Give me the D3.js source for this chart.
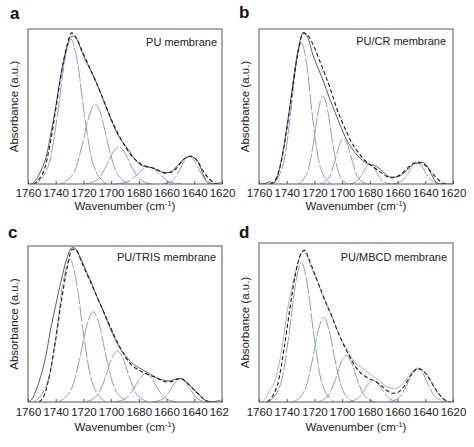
<!DOCTYPE html>
<html><head><meta charset="utf-8">
<script src="https://cdn.jsdelivr.net/npm/d3@7"></script>
<style>body{margin:0;background:#fff}svg{display:block}text{font-family:"Liberation Sans",Arial,sans-serif}</style>
</head><body><svg id="c" width="474" height="447"></svg>
<script>
// ---------- data ----------
const xTicks = [1760,1740,1720,1700,1680,1660,1640,1620];
const panelLetters = ["a","b","c","d"];
const panelTitles = ["PU membrane","PU/CR membrane","PU/TRIS membrane","PU/MBCD membrane"];
const xTitle = "Wavenumber (cm";
const yTitle = "Absorbance (a.u.)";

const measuredA = [[1760,0],[1758,0],[1754,0.03],[1750,0.10],[1747,0.17],[1744,0.30],[1740,0.50],[1736,0.72],[1732,0.88],[1729,0.95],[1727,0.955],[1724,0.92],[1721,0.85],[1718,0.79],[1714,0.72],[1710,0.64],[1706,0.55],[1702,0.46],[1698,0.37],[1694,0.30],[1690,0.25],[1686,0.20],[1682,0.15],[1678,0.12],[1674,0.11],[1670,0.105],[1666,0.085],[1662,0.075],[1658,0.075],[1654,0.10],[1650,0.14],[1646,0.17],[1643,0.178],[1640,0.17],[1637,0.14],[1634,0.07],[1631,0.015],[1628,0],[1624,0],[1622,0.008],[1620,0.005]];
const fitA = [[1756,0],[1752,0.03],[1748,0.10],[1744,0.26],[1740,0.48],[1736,0.71],[1732,0.89],[1728.5,0.975],[1725,0.94],[1721,0.86],[1717,0.78],[1713,0.70],[1709,0.62],[1705,0.53],[1701,0.44],[1697,0.36],[1693,0.29],[1689,0.23],[1685,0.18],[1681,0.145],[1677,0.12],[1673,0.11],[1669,0.10],[1665,0.085],[1661,0.07],[1657,0.075],[1653,0.10],[1649,0.145],[1645,0.175],[1642,0.178],[1638,0.15],[1634,0.09],[1630,0.04],[1626,0.01],[1622,0]];
const compsA = [
 [[1754.6,0],[1745,0.127],[1738.6,0.455],[1733.8,0.78],[1729,0.935],[1724.2,0.78],[1719.4,0.455],[1713,0.127],[1703.4,0]],
 [[1736.5,0],[1727.1,0.07],[1720.9,0.251],[1716.2,0.43],[1711.5,0.515],[1706.8,0.43],[1702.1,0.251],[1695.9,0.07],[1686.5,0]],
 [[1718.5,0],[1709.5,0.032],[1703.5,0.117],[1699,0.2],[1694.5,0.24],[1690,0.2],[1685.5,0.117],[1679.5,0.032],[1670.5,0]],
 [[1697,0],[1688,0.015],[1682,0.054],[1677.5,0.092],[1673,0.11],[1668.5,0.092],[1664,0.054],[1658,0.015],[1649,0]],
 [[1662.7,0],[1655.5,0.024],[1650.7,0.088],[1647.1,0.15],[1643.5,0.18],[1639.9,0.15],[1636.3,0.088],[1631.5,0.024],[1624.3,0]]
];

const measuredB = [[1760,0],[1755,0.005],[1752,0.015],[1750,0.005],[1747,0.04],[1744,0.15],[1740,0.36],[1737,0.55],[1734,0.75],[1731,0.90],[1728,0.975],[1725,0.95],[1721,0.83],[1717,0.74],[1713,0.65],[1709,0.55],[1705,0.46],[1701,0.37],[1697,0.29],[1693,0.23],[1689,0.185],[1685,0.15],[1681,0.13],[1677,0.12],[1673,0.10],[1669,0.065],[1665,0.045],[1661,0.045],[1657,0.06],[1653,0.09],[1650,0.12],[1647,0.135],[1645,0.13],[1642,0.14],[1639,0.12],[1636,0.07],[1633,0.02],[1630,0],[1620,0]];
const fitB = [[1752,0],[1748,0.03],[1744,0.14],[1740,0.35],[1736,0.60],[1732,0.84],[1728,0.975],[1724,0.95],[1720,0.88],[1716,0.79],[1712,0.70],[1708,0.60],[1704,0.49],[1700,0.40],[1696,0.32],[1692,0.25],[1688,0.20],[1684,0.155],[1680,0.125],[1676,0.10],[1672,0.075],[1668,0.05],[1664,0.04],[1660,0.05],[1656,0.075],[1652,0.11],[1648,0.135],[1644,0.14],[1640,0.12],[1636,0.08],[1632,0.04],[1628,0.01],[1624,0]];
const compsB = [
 [[1750.5,0],[1742.6,0.123],[1737.3,0.443],[1733.4,0.76],[1729.4,0.91],[1725.4,0.76],[1721.5,0.443],[1716.2,0.123],[1708.3,0]],
 [[1731.7,0],[1725,0.077],[1720.5,0.277],[1717.2,0.474],[1713.8,0.568],[1710.4,0.474],[1707.1,0.277],[1702.6,0.077],[1695.9,0]],
 [[1716,0],[1709.6,0.04],[1705.4,0.144],[1702.2,0.246],[1699,0.295],[1695.8,0.246],[1692.6,0.144],[1688.4,0.04],[1682,0]],
 [[1695.4,0],[1689.6,0.017],[1685.8,0.062],[1682.9,0.106],[1680,0.127],[1677.1,0.106],[1674.2,0.062],[1670.4,0.017],[1664.6,0]],
 [[1663.6,0],[1657,0.019],[1652.6,0.068],[1649.3,0.117],[1646,0.14],[1642.7,0.117],[1639.4,0.068],[1635,0.019],[1628.4,0]]
];

const measuredC = [[1760,0],[1757,0.02],[1754,0.08],[1750,0.19],[1747,0.30],[1744,0.45],[1740,0.62],[1736,0.78],[1732,0.92],[1728,0.99],[1726,0.985],[1722,0.92],[1718,0.84],[1714,0.76],[1710,0.67],[1706,0.59],[1702,0.50],[1698,0.42],[1694,0.35],[1690,0.30],[1686,0.26],[1682,0.23],[1678,0.21],[1674,0.19],[1670,0.17],[1666,0.15],[1662,0.14],[1658,0.135],[1654,0.145],[1650,0.15],[1646,0.13],[1642,0.095],[1638,0.06],[1634,0.025],[1631,0.005],[1628,0],[1622,0.008],[1620,0]];
const fitC = [[1752,0],[1748,0.05],[1744,0.19],[1740,0.40],[1736,0.64],[1732,0.85],[1728,0.98],[1725,0.97],[1721,0.89],[1717,0.81],[1713,0.73],[1709,0.65],[1705,0.57],[1701,0.49],[1697,0.41],[1693,0.34],[1689,0.28],[1685,0.235],[1681,0.21],[1677,0.19],[1673,0.175],[1669,0.16],[1665,0.145],[1661,0.13],[1657,0.13],[1653,0.145],[1650,0.15],[1646,0.13],[1642,0.095],[1638,0.06],[1634,0.025],[1630,0.005],[1626,0]];
const compsC = [
 [[1755.7,0],[1746,0.123],[1739.5,0.445],[1734.7,0.763],[1729.8,0.914],[1724.9,0.763],[1720.1,0.445],[1713.6,0.123],[1703.9,0]],
 [[1738.6,0],[1729,0.078],[1722.6,0.281],[1717.8,0.483],[1713,0.578],[1708.2,0.483],[1703.4,0.281],[1697,0.078],[1687.4,0]],
 [[1718.5,0],[1709.9,0.044],[1704.1,0.159],[1699.8,0.273],[1695.5,0.327],[1691.2,0.273],[1686.9,0.159],[1681.1,0.044],[1672.5,0]],
 [[1697.4,0],[1689,0.025],[1683.4,0.089],[1679.2,0.153],[1675,0.183],[1670.8,0.153],[1666.6,0.089],[1661,0.025],[1652.6,0]],
 [[1670.2,0],[1662.6,0.02],[1657.6,0.073],[1653.8,0.125],[1650,0.15],[1646.2,0.125],[1642.4,0.073],[1637.4,0.02],[1629.8,0]]
];

const measuredD = [[1760,0],[1758,0],[1755,0.03],[1752,0.08],[1749,0.12],[1746,0.22],[1743,0.36],[1740,0.55],[1736,0.73],[1733,0.84],[1730,0.92],[1728,0.95],[1726,0.93],[1722,0.84],[1718,0.76],[1714,0.67],[1710,0.59],[1706,0.51],[1702,0.42],[1698,0.355],[1694,0.29],[1690,0.24],[1686,0.22],[1682,0.19],[1678,0.165],[1674,0.14],[1670,0.11],[1666,0.09],[1662,0.085],[1658,0.10],[1654,0.14],[1650,0.185],[1646,0.205],[1643,0.20],[1640,0.18],[1636,0.13],[1632,0.07],[1628,0.025],[1624,0.005],[1620,0]];
const fitD = [[1754,0],[1750,0.04],[1746,0.13],[1742,0.33],[1738,0.57],[1734,0.79],[1730,0.93],[1727,0.955],[1724,0.90],[1720,0.81],[1716,0.72],[1712,0.63],[1708,0.55],[1704,0.46],[1700,0.38],[1696,0.31],[1692,0.245],[1688,0.195],[1684,0.165],[1680,0.145],[1676,0.13],[1672,0.105],[1668,0.075],[1664,0.055],[1660,0.06],[1656,0.09],[1652,0.145],[1648,0.195],[1645,0.21],[1642,0.20],[1638,0.16],[1634,0.10],[1630,0.05],[1626,0.015],[1622,0]];
const compsD = [
 [[1753.1,0],[1744.2,0.119],[1738.3,0.428],[1733.8,0.733],[1729.4,0.878],[1725,0.733],[1720.5,0.428],[1714.6,0.119],[1705.7,0]],
 [[1735.4,0],[1727.1,0.072],[1721.6,0.259],[1717.4,0.444],[1713.3,0.532],[1709.2,0.444],[1705,0.259],[1699.5,0.072],[1691.2,0]],
 [[1717.8,0],[1710,0.04],[1704.8,0.143],[1700.9,0.245],[1697,0.293],[1693.1,0.245],[1689.2,0.143],[1684,0.04],[1676.2,0]],
 [[1696.6,0],[1689.4,0.018],[1684.6,0.066],[1681,0.114],[1677.4,0.136],[1673.8,0.114],[1670.2,0.066],[1665.4,0.018],[1658.2,0]],
 [[1666.7,0],[1658.8,0.029],[1653.5,0.104],[1649.6,0.179],[1645.6,0.214],[1641.6,0.179],[1637.7,0.104],[1632.4,0.029],[1624.5,0]]
];

// ---------- layout ----------
const layout = [
 {box:{x0:28,x1:222,y0:29,y1:184}, letter:[10,19], yt:14, tickY:197, xtY:210, titleY:46, titleX:217, meas:"#4a4a4a", clipW:474},
 {box:{x0:259,x1:453,y0:29,y1:184}, letter:[239,18], yt:245, tickY:197, xtY:210, titleY:45, titleX:446, meas:"#4a4a4a", clipW:474},
 {box:{x0:28,x1:222,y0:246,y1:402}, letter:[8,238], yt:14, tickY:416, xtY:431, titleY:261, titleX:216, meas:"#4a4a4a", clipW:229},
 {box:{x0:259,x1:453,y0:243,y1:402}, letter:[239,238], yt:245, tickY:416, xtY:431, titleY:261, titleX:447, meas:"#ababab", clipW:474}
];
const datasets = [
 {meas:measuredA, fit:fitA, comps:compsA},
 {meas:measuredB, fit:fitB, comps:compsB},
 {meas:measuredC, fit:fitC, comps:compsC},
 {meas:measuredD, fit:fitD, comps:compsD}
];

const svg = d3.select("#c");
const defs = svg.append("defs");

layout.forEach((L,i)=>{
  const D = datasets[i], b = L.box;
  defs.append("clipPath").attr("id","pc"+i).append("rect").attr("x",0).attr("y",0).attr("width",L.clipW).attr("height",447);
  defs.append("clipPath").attr("id","bx"+i).append("rect").attr("x",b.x0).attr("y",b.y0).attr("width",b.x1-b.x0).attr("height",b.y1-b.y0);
  const g = svg.append("g").attr("clip-path","url(#pc"+i+")");
  const x = d3.scaleLinear().domain([1760,1620]).range([b.x0,b.x1]);
  const y = d3.scaleLinear().domain([0,1]).range([b.y1,b.y0]);
  const line = d3.line().x(d=>x(d[0])).y(d=>y(d[1])).curve(d3.curveMonotoneX);
  const plot = g.append("g").attr("clip-path","url(#bx"+i+")");
  D.comps.forEach(c=>{
    plot.append("path").attr("d",line(c)).attr("fill","none")
      .attr("stroke","#8a9dc6").attr("stroke-width",1).attr("stroke-dasharray","16,2");
  });
  plot.append("path").attr("d",line(D.meas)).attr("fill","none").attr("stroke",L.meas).attr("stroke-width",0.9);
  plot.append("path").attr("d",line(D.fit)).attr("fill","none").attr("stroke","#1a1a1a").attr("stroke-width",1.1).attr("stroke-dasharray","4,2.5");

  // frame
  g.append("rect").attr("x",b.x0).attr("y",b.y0).attr("width",b.x1-b.x0).attr("height",b.y1-b.y0)
    .attr("fill","none").attr("stroke","#555").attr("stroke-width",1);
  // axis
  const ax = d3.axisBottom(x).tickValues(xTicks).tickSize(-3).tickPadding(0).tickFormat(d3.format("d"));
  const axg = g.append("g").attr("transform",`translate(0,${b.y1})`).call(ax);
  axg.select(".domain").remove();
  axg.selectAll(".tick line").attr("stroke","#555");
  axg.selectAll(".tick text").attr("y",L.tickY-b.y1).attr("dy",0).attr("font-size",11.5).attr("fill","#222").attr("font-family",null);
  // x title
  const xt = g.append("text").attr("x",(b.x0+b.x1)/2).attr("y",L.xtY).attr("text-anchor","middle").attr("font-size",11.5).attr("fill","#222");
  xt.append("tspan").text(xTitle);
  xt.append("tspan").attr("dy",-4).attr("font-size",7.5).text("-1");
  xt.append("tspan").attr("dy",4).text(")");
  // y title
  g.append("text").attr("transform",`translate(${L.yt + 4},${(b.y0+b.y1)/2}) rotate(-90)`).attr("text-anchor","middle")
    .attr("font-size",11.5).attr("fill","#222").text(yTitle);
  // letter
  g.append("text").attr("x",L.letter[0]).attr("y",L.letter[1]).attr("font-size",17).attr("font-weight","bold").attr("fill","#111").text(panelLetters[i]);
  // title
  g.append("text").attr("x",L.titleX).attr("y",L.titleY).attr("text-anchor","end").attr("font-size",11).attr("fill","#222").text(panelTitles[i]);
});
</script></body></html>
